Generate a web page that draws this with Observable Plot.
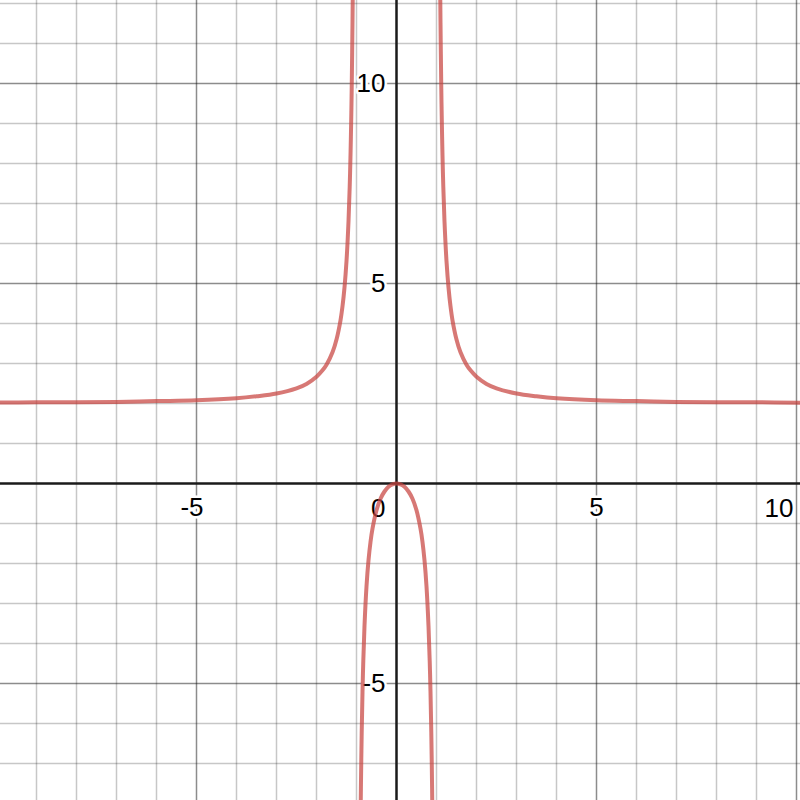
<!DOCTYPE html>
<html>
<head>
<meta charset="utf-8">
<script src="https://cdn.jsdelivr.net/npm/d3@7"></script>
<script src="https://cdn.jsdelivr.net/npm/@observablehq/plot@0.6"></script>
<style>
  body { margin: 0; background: #fff; }
  #chart svg { display: block; }
</style>
</head>
<body>
<div id="chart"></div>
<script>
// View window (graph units)
const xDomain = [-9.9, 10.1];
const yDomain = [-7.925, 12.075];

// Curve samples: left branch, middle branch, right branch
const leftX = [-10.1, -9, -8, -7, -6, -5, -4, -3.5, -3, -2.5, -2.25, -2, -1.85, -1.75, -1.6, -1.5, -1.4, -1.35, -1.3, -1.25, -1.2, -1.17, -1.15, -1.13, -1.12, -1.1, -1.09, -1.08];
const leftY = [2.02, 2.03, 2.03, 2.04, 2.06, 2.08, 2.13, 2.18, 2.25, 2.38, 2.49, 2.67, 2.83, 2.97, 3.28, 3.60, 4.08, 4.43, 4.90, 5.56, 6.55, 7.42, 8.20, 9.22, 9.86, 11.52, 12.63, 14.02];

const midX = [-0.91, -0.9, -0.89, -0.87, -0.85, -0.83, -0.8, -0.75, -0.7, -0.65, -0.6, -0.5, -0.4, -0.3, -0.2, -0.1, 0, 0.1, 0.2, 0.3, 0.4, 0.5, 0.6, 0.65, 0.7, 0.75, 0.8, 0.83, 0.85, 0.87, 0.89, 0.9, 0.91];
const midY = [-9.64, -8.53, -7.62, -6.23, -5.21, -4.43, -3.56, -2.57, -1.92, -1.46, -1.13, -0.67, -0.38, -0.20, -0.08, -0.02, 0, -0.02, -0.08, -0.20, -0.38, -0.67, -1.13, -1.46, -1.92, -2.57, -3.56, -4.43, -5.21, -6.23, -7.62, -8.53, -9.64];

const rightX = [1.08, 1.09, 1.1, 1.12, 1.13, 1.15, 1.17, 1.2, 1.25, 1.3, 1.35, 1.4, 1.5, 1.6, 1.75, 1.85, 2, 2.25, 2.5, 3, 3.5, 4, 5, 6, 7, 8, 9, 10.1];
const rightY = [14.02, 12.63, 11.52, 9.86, 9.22, 8.20, 7.42, 6.55, 5.56, 4.90, 4.43, 4.08, 3.60, 3.28, 2.97, 2.83, 2.67, 2.49, 2.38, 2.25, 2.18, 2.13, 2.08, 2.06, 2.04, 2.03, 2.03, 2.02];

// Tick labels
const xNegTicks = [-5];
const xPosTicks = [5];
const xEdgeTicks = [10];
const yTicks = [-5, 5, 10];
const originLabel = ["0"];

// Build the curve table
const curve = [];
leftX.forEach((x, i) => curve.push({branch: "left", x, y: leftY[i]}));
midX.forEach((x, i) => curve.push({branch: "mid", x, y: midY[i]}));
rightX.forEach((x, i) => curve.push({branch: "right", x, y: rightY[i]}));

// Grid lines
const xs = d3.range(-9, 11);
const ys = d3.range(-7, 13);
const minorX = xs.filter(d => d % 5 !== 0);
const majorX = xs.filter(d => d % 5 === 0 && d !== 0);
const minorY = ys.filter(d => d % 5 !== 0);
const majorY = ys.filter(d => d % 5 === 0 && d !== 0);

const font = "'Liberation Sans', Arial, Helvetica, sans-serif";
const fs = 26;
const halo = {stroke: "white", strokeWidth: 5, fill: "black", fontSize: fs, fontFamily: font};

const chart = Plot.plot({
  width: 800,
  height: 800,
  margin: 0,
  x: {domain: xDomain, axis: null},
  y: {domain: yDomain, axis: null},
  style: {background: "white"},
  marks: [
    Plot.ruleX(minorX, {stroke: "#000", strokeOpacity: 0.22, strokeWidth: 1.5}),
    Plot.ruleY(minorY, {stroke: "#000", strokeOpacity: 0.22, strokeWidth: 1.5}),
    Plot.ruleX(majorX, {stroke: "#000", strokeOpacity: 0.45, strokeWidth: 1.5}),
    Plot.ruleY(majorY, {stroke: "#000", strokeOpacity: 0.45, strokeWidth: 1.5}),
    Plot.ruleX([0], {stroke: "#1a1a1a", strokeWidth: 2.5}),
    Plot.ruleY([0], {stroke: "#1a1a1a", strokeWidth: 2.5}),
    // x-axis labels
    Plot.text(xNegTicks, {x: d => d, y: () => 0, text: d => "-" + Math.abs(d), textAnchor: "end", lineAnchor: "bottom", dx: 7, dy: 32, ...halo}),
    Plot.text(xPosTicks, {x: d => d, y: () => 0, text: d => String(d), textAnchor: "middle", lineAnchor: "bottom", dy: 32, ...halo}),
    Plot.text(xEdgeTicks, {x: d => d, y: () => 0, text: d => String(d), textAnchor: "end", lineAnchor: "bottom", dx: -3, dy: 33, ...halo}),
    // y-axis labels
    Plot.text(yTicks, {x: () => 0, y: d => d, text: d => d < 0 ? "-" + Math.abs(d) : String(d), textAnchor: "end", lineAnchor: "middle", dx: -11, ...halo}),
    // origin
    Plot.text(originLabel, {x: () => 0, y: () => 0, text: d => d, textAnchor: "end", lineAnchor: "bottom", dx: -11, dy: 33, ...halo}),
    // curve
    Plot.line(curve, {x: "x", y: "y", z: "branch", curve: "catmull-rom", stroke: "#c74440", strokeOpacity: 0.72, strokeWidth: 4, clip: true})
  ]
});

document.getElementById("chart").appendChild(chart);
</script>
</body>
</html>
